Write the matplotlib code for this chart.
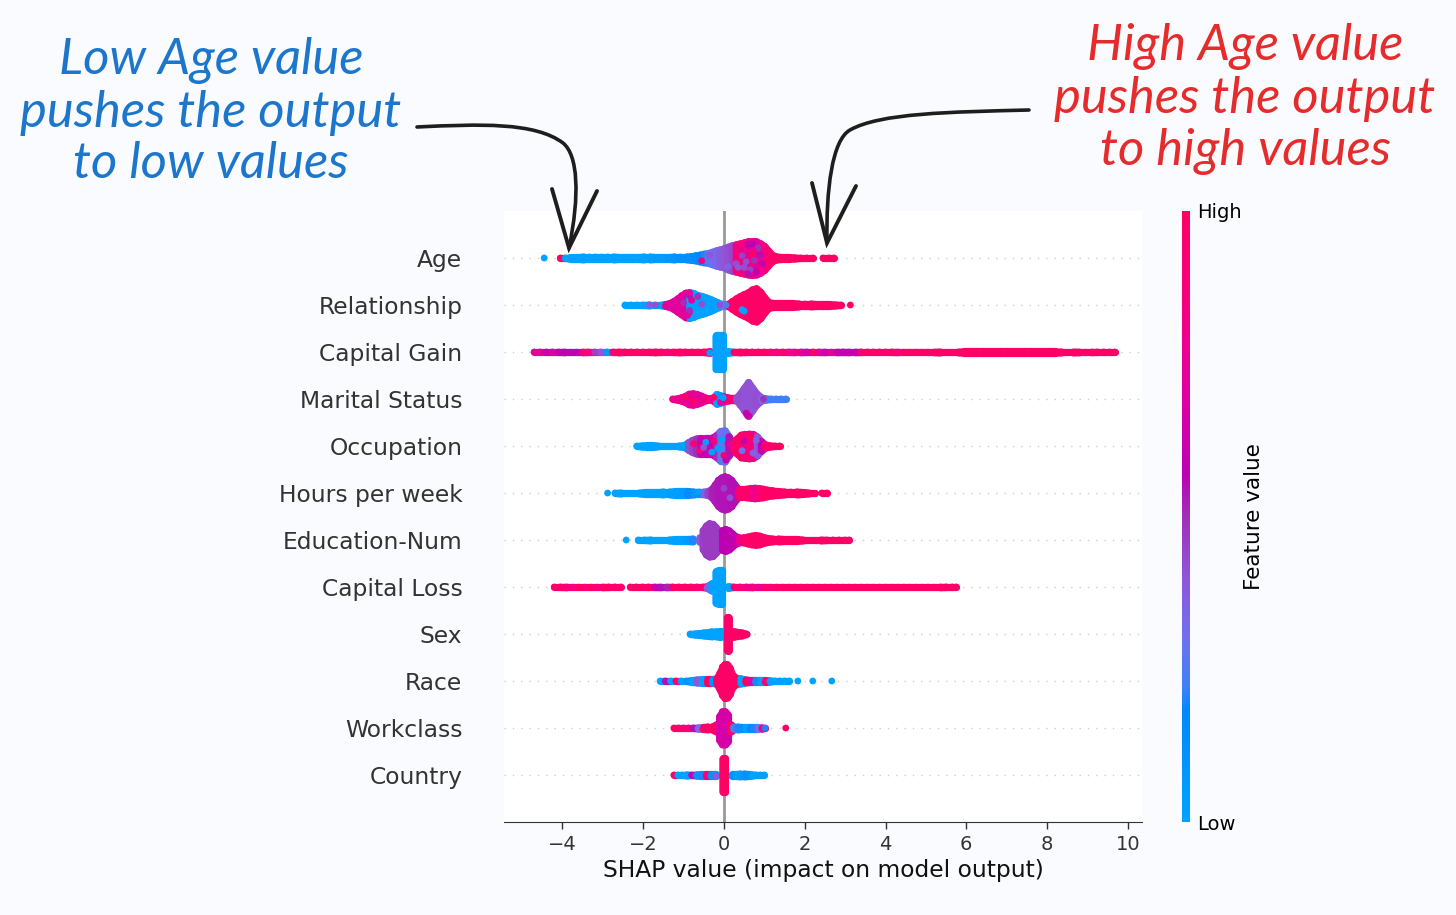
import numpy as np
import matplotlib
matplotlib.use("Agg")
from matplotlib import pyplot as plt
from matplotlib.colors import LinearSegmentedColormap
from matplotlib.cm import ScalarMappable
from matplotlib.path import Path
from matplotlib.patches import PathPatch

features = ["Age", "Relationship", "Capital Gain", "Marital Status", "Occupation", "Hours per week",
            "Education-Num", "Capital Loss", "Sex", "Race", "Workclass", "Country"]
x_ticks = [-4, -2, 0, 2, 4, 6, 8, 10]

# x = shap value, h = half height of the swarm, c = feature value 0..1
age_x = [-4.45, -4.05, -3.93, -3.78, -3.63, -3.48, -3.33, -3.18, -3.03, -2.88, -2.73, -2.58, -2.43, -2.28, -2.13, -1.98, -1.83, -1.68, -1.53, -1.38, -1.23, -1.08, -0.93, -0.8, -0.7, -0.6, -0.5, -0.4, -0.3, -0.2, -0.1, 0.0, 0.1, 0.2, 0.3, 0.4, 0.5, 0.6, 0.7, 0.8, 0.9, 1.0, 1.1, 1.2, 1.3, 1.45, 1.6, 1.75, 1.9, 2.05, 2.2, 2.45, 2.6, 2.72]
age_h = [0, 0, 0, 0.02, 0.02, 0.03, 0.03, 0.03, 0.03, 0.03, 0.03, 0.02, 0.02, 0.02, 0.02, 0.03, 0.03, 0.02, 0.02, 0.02, 0.03, 0.03, 0.03, 0.04, 0.05, 0.07, 0.09, 0.1, 0.13, 0.16, 0.18, 0.2, 0.24, 0.27, 0.29, 0.31, 0.33, 0.35, 0.36, 0.35, 0.31, 0.25, 0.15, 0.06, 0.03, 0.02, 0.02, 0.01, 0, 0, 0, 0, 0, 0]
age_c = [0.0, 1.0, 0.0, 0.0, 0.0, 0.0, 0.0, 0.0, 0.0, 0.0, 0.0, 0.0, 0.0, 0.0, 0.0, 0.0, 0.03, 0.05, 0.05, 0.08, 0.1, 0.12, 0.14, 0.14, 0.16, 0.18, 0.2, 0.25, 0.3, 0.33, 0.37, 0.4, 0.42, 0.44, 0.85, 0.9, 0.85, 0.75, 0.8, 0.72, 0.8, 0.85, 0.95, 1.0, 1.0, 1.0, 1.0, 1.0, 1.0, 1.0, 1.0, 1.0, 1.0, 1.0]
age_mix_x = [0.3, 0.45, 0.55, 0.6, 0.7, 0.75, 0.85, 0.65, 0.8, 0.5, 0.4, 0.7, 0.95, 0.6, 0.35, 0.9, -0.35, -0.55, 0.1]
age_mix_y = [-0.12, 0.05, -0.08, 0.28, 0.3, -0.05, 0.22, -0.25, -0.3, -0.2, 0.2, 0.08, -0.12, -0.34, -0.2, 0.06, 0.06, -0.06, -0.18]
age_mix_c = [0.42, 0.45, 0.42, 0.6, 0.58, 0.5, 0.5, 0.45, 0.6, 0.42, 0.8, 1.0, 0.6, 0.55, 0.4, 0.55, 0.4, 0.85, 0.35]

rel_x = [-2.45, -2.3, -2.15, -2.0, -1.85, -1.7, -1.55, -1.45, -1.35, -1.25, -1.15, -1.05, -0.95, -0.85, -0.75, -0.65, -0.55, -0.45, -0.35, -0.25, -0.15, -0.05, 0.1, 0.2, 0.3, 0.4, 0.5, 0.6, 0.7, 0.8, 0.9, 1.0, 1.1, 1.25, 1.4, 1.55, 1.7, 1.85, 2.0, 2.15, 2.3, 2.45, 2.6, 2.75, 2.9, 3.13]
rel_h = [0, 0, 0, 0, 0.01, 0.01, 0.01, 0.02, 0.04, 0.08, 0.14, 0.2, 0.26, 0.27, 0.25, 0.21, 0.19, 0.16, 0.13, 0.09, 0.05, 0.02, 0.02, 0.08, 0.14, 0.19, 0.23, 0.27, 0.33, 0.35, 0.28, 0.16, 0.06, 0.04, 0.04, 0.04, 0.04, 0.03, 0.03, 0.03, 0.02, 0.02, 0.02, 0.01, 0, 0]
rel_c = [0.0, 0.0, 0.0, 0.0, 0.0, 0.0, 0.0, 0.72, 0.72, 0.7, 0.72, 0.72, 0.7, 0.0, 0.0, 0.0, 0.0, 0.0, 0.0, 0.0, 0.0, 0.3, 1.0, 1.0, 1.0, 1.0, 1.0, 1.0, 1.0, 1.0, 1.0, 1.0, 1.0, 1.0, 1.0, 1.0, 1.0, 1.0, 1.0, 1.0, 1.0, 1.0, 1.0, 1.0, 1.0, 1.0]
rel_mix_x = [-1.85, -1.7, -1.0, -0.95, -0.85, -0.85, -0.85, -0.8, -0.9, -0.65, -0.55, -0.85, -0.1, 0.05, 0.45, 0.5]
rel_mix_y = [0, 0, 0.05, 0.25, 0.2, 0.26, -0.15, 0.1, -0.22, 0.18, 0.02, -0.12, 0, 0, -0.1, -0.13]
rel_mix_c = [0.4, 0.42, 0.5, 0.72, 0.55, 0.72, 0.7, 0.72, 0.72, 0.5, 0.42, 0.5, 0.42, 0.25, 0.0, 0.0]

gain_x = [-4.7, -4.55, -4.4, -4.25, -4.1, -3.95, -3.8, -3.65, -3.5, -3.35, -3.2, -3.05, -2.9, -2.75, -2.6, -2.45, -2.3, -2.15, -2.0, -1.85, -1.7, -1.55, -1.4, -1.25, -1.1, -0.95, -0.8, -0.65, -0.5, -0.35, -0.2, -0.14, -0.08, -0.03, 0.1, 0.25, 0.4, 0.55, 0.7, 0.85, 1.0, 1.15, 1.3, 1.45, 1.6, 1.75, 1.9, 2.05, 2.2, 2.35, 2.5, 2.65, 2.8, 2.95, 3.1, 3.25, 3.4, 3.55, 3.7, 3.85, 4.0, 4.15, 4.3, 4.45, 4.6, 4.75, 4.9, 5.05, 5.2, 5.35, 5.5, 5.65, 5.8, 5.95, 6.1, 6.25, 6.4, 6.55, 6.7, 6.85, 7.0, 7.15, 7.3, 7.45, 7.6, 7.75, 7.9, 8.05, 8.2, 8.35, 8.5, 8.65, 8.8, 8.95, 9.1, 9.25, 9.4, 9.55, 9.68]
gain_h = [0, 0, 0, 0, 0, 0.005, 0.005, 0.005, 0.005, 0, 0, 0, 0, 0, 0.005, 0, 0, 0, 0, 0, 0.005, 0, 0, 0, 0.005, 0, 0, 0, 0, 0.02, 0.37, 0.37, 0.37, 0.37, 0.02, 0, 0.005, 0, 0, 0, 0, 0, 0, 0, 0, 0.005, 0.005, 0, 0, 0, 0.005, 0.005, 0.005, 0, 0.005, 0.005, 0, 0, 0, 0, 0, 0, 0.005, 0.005, 0.005, 0.005, 0.005, 0.005, 0.005, 0.01, 0.01, 0.01, 0.01, 0.012, 0.012, 0.012, 0.012, 0.012, 0.012, 0.012, 0.012, 0.012, 0.012, 0.012, 0.012, 0.012, 0.012, 0.012, 0.012, 0.01, 0.01, 0.01, 0.005, 0.005, 0.005, 0, 0, 0, 0]
gain_c = [0.75, 0.72, 0.62, 0.7, 0.6, 0.58, 0.6, 0.58, 0.9, 0.85, 0.45, 0.4, 0.05, 0.95, 1.0, 1.0, 1.0, 1.0, 1.0, 0.95, 1.0, 1.0, 0.9, 1.0, 1.0, 0.95, 1.0, 1.0, 1.0, 0.0, 0.0, 0.0, 0.0, 0.0, 0.0, 1.0, 1.0, 1.0, 0.95, 1.0, 1.0, 0.9, 0.85, 1.0, 0.8, 0.85, 0.75, 0.65, 1.0, 0.75, 0.62, 0.8, 0.62, 0.62, 0.62, 0.62, 1.0, 1.0, 1.0, 0.95, 1.0, 0.95, 0.9, 1.0, 1.0, 0.95, 1.0, 1.0, 1.0, 1.0, 1.0, 1.0, 1.0, 1.0, 1.0, 1.0, 1.0, 1.0, 1.0, 1.0, 1.0, 1.0, 1.0, 1.0, 1.0, 1.0, 1.0, 1.0, 1.0, 1.0, 1.0, 1.0, 1.0, 1.0, 1.0, 1.0, 1.0, 1.0, 1.0]

marital_x = [-1.27, -1.17, -1.07, -0.97, -0.87, -0.77, -0.67, -0.57, -0.47, -0.37, -0.27, -0.18, -0.1, 0.0, 0.1, 0.2, 0.31, 0.4, 0.5, 0.6, 0.7, 0.8, 0.93, 1.05, 1.17, 1.29, 1.41, 1.53]
marital_h = [0, 0.01, 0.03, 0.06, 0.11, 0.12, 0.1, 0.07, 0.03, 0.01, 0.03, 0.1, 0.08, 0.05, 0.03, 0.02, 0.03, 0.12, 0.24, 0.36, 0.24, 0.12, 0.03, 0.01, 0, 0, 0, 0]
marital_c = [0.8, 0.8, 0.8, 0.75, 0.75, 0.75, 0.75, 0.75, 0.8, 0.9, 0.7, 0.0, 0.1, 0.7, 0.9, 0.95, 0.42, 0.42, 0.41, 0.41, 0.41, 0.42, 0.35, 0.22, 0.22, 0.22, 0.22, 0.22]
marital_mix_x = [0.58, 0.62, 0.55, -0.95, -0.75, -0.25, -0.08, -0.02, 0.98]
marital_mix_y = [-0.35, -0.36, -0.3, 0.05, -0.05, 0.03, -0.07, 0.03, 0]
marital_mix_c = [0.7, 0.65, 0.6, 1.0, 1.0, 1.0, 0.7, 0.0, 0.5]

occ_x = [-2.16, -2.03, -1.9, -1.77, -1.64, -1.51, -1.38, -1.25, -1.12, -0.99, -0.88, -0.78, -0.68, -0.58, -0.48, -0.38, -0.28, -0.18, -0.08, 0.02, 0.12, 0.22, 0.32, 0.42, 0.52, 0.62, 0.72, 0.82, 0.92, 1.02, 1.14, 1.26, 1.38]
occ_h = [0, 0.01, 0.02, 0.02, 0.01, 0.01, 0.01, 0.01, 0.01, 0.02, 0.08, 0.13, 0.16, 0.17, 0.16, 0.16, 0.18, 0.24, 0.32, 0.33, 0.2, 0.06, 0.16, 0.24, 0.25, 0.26, 0.25, 0.2, 0.1, 0.03, 0.01, 0.0, 0.0]
occ_c = [0.0, 0.0, 0.0, 0.0, 0.0, 0.0, 0.0, 0.0, 0.0, 0.0, 0.42, 0.45, 0.5, 0.62, 0.6, 0.65, 0.6, 0.5, 0.28, 0.28, 0.55, 0.9, 1.0, 1.0, 0.95, 0.9, 0.85, 0.4, 0.6, 0.95, 1.0, 1.0, 1.0]
occ_mix_x = [-0.75, -0.6, -0.45, -0.3, -0.25, -0.1, 0.0, 0.1, -0.15, 0.5, 0.65, 0.72, 0.8, 0.45, -0.5, -0.05, 0.05]
occ_mix_y = [0.05, -0.1, 0.08, -0.13, 0.1, 0.3, -0.2, 0.05, -0.05, 0.1, 0.18, -0.15, 0.12, -0.1, -0.03, 0.13, -0.3]
occ_mix_c = [0.95, 0.85, 0.0, 0.0, 0.9, 0.3, 0.95, 0.7, 0.0, 0.6, 1.0, 0.35, 0.35, 0.3, 0.4, 0.0, 0.6]

hours_x = [-2.88, -2.7, -2.55, -2.4, -2.25, -2.1, -1.95, -1.8, -1.65, -1.5, -1.35, -1.2, -1.05, -0.9, -0.75, -0.6, -0.5, -0.4, -0.3, -0.22, -0.14, -0.06, 0.02, 0.1, 0.18, 0.26, 0.36, 0.46, 0.56, 0.66, 0.76, 0.86, 0.96, 1.06, 1.2, 1.35, 1.5, 1.65, 1.8, 1.95, 2.1, 2.25, 2.42, 2.55]
hours_h = [0, 0, 0.01, 0.01, 0.01, 0.01, 0.02, 0.02, 0.02, 0.03, 0.03, 0.04, 0.04, 0.04, 0.03, 0.03, 0.03, 0.04, 0.09, 0.18, 0.28, 0.33, 0.35, 0.33, 0.28, 0.18, 0.08, 0.08, 0.09, 0.1, 0.11, 0.1, 0.09, 0.07, 0.05, 0.04, 0.03, 0.03, 0.03, 0.02, 0.01, 0.01, 0, 0]
hours_c = [0.0, 0.0, 0.0, 0.0, 0.0, 0.0, 0.0, 0.0, 0.0, 0.0, 0.02, 0.02, 0.05, 0.15, 0.1, 0.2, 0.35, 0.45, 0.52, 0.53, 0.54, 0.54, 0.54, 0.54, 0.55, 0.55, 0.95, 0.95, 1.0, 0.9, 0.8, 0.9, 1.0, 1.0, 1.0, 1.0, 1.0, 1.0, 1.0, 1.0, 1.0, 1.0, 1.0, 1.0]
hours_mix_x = [-0.65, 0.0, 0.15]
hours_mix_y = [0.02, 0.1, -0.1]
hours_mix_c = [0.05, 0.45, 0.42]

edu_x = [-2.42, -2.12, -1.97, -1.82, -1.67, -1.52, -1.37, -1.22, -1.07, -0.92, -0.77, -0.6, -0.52, -0.44, -0.36, -0.28, -0.2, -0.12, -0.04, 0.04, 0.12, 0.2, 0.28, 0.38, 0.48, 0.58, 0.68, 0.78, 0.88, 0.98, 1.08, 1.2, 1.35, 1.5, 1.65, 1.8, 1.95, 2.1, 2.25, 2.4, 2.55, 2.7, 2.85, 3.0, 3.1]
edu_h = [0, 0, 0, 0.01, 0.01, 0.01, 0.01, 0.02, 0.02, 0.02, 0.03, 0.05, 0.2, 0.31, 0.35, 0.34, 0.27, 0.18, 0.21, 0.23, 0.2, 0.14, 0.08, 0.05, 0.05, 0.07, 0.09, 0.1, 0.09, 0.06, 0.04, 0.03, 0.03, 0.02, 0.02, 0.02, 0.01, 0.01, 0.01, 0.01, 0, 0, 0, 0, 0]
edu_c = [0.0, 0.0, 0.0, 0.0, 0.0, 0.0, 0.0, 0.0, 0.0, 0.05, 0.2, 0.4, 0.46, 0.47, 0.47, 0.47, 0.47, 0.47, 0.57, 0.58, 0.58, 0.58, 0.6, 0.8, 0.9, 1.0, 1.0, 1.0, 1.0, 1.0, 1.0, 1.0, 1.0, 1.0, 1.0, 1.0, 1.0, 1.0, 1.0, 1.0, 1.0, 1.0, 1.0, 1.0, 1.0]

loss_x = [-4.2, -4.05, -3.9, -3.75, -3.6, -3.45, -3.3, -3.15, -3.0, -2.85, -2.7, -2.55, -2.32, -2.17, -2.02, -1.87, -1.72, -1.57, -1.42, -1.27, -1.12, -0.97, -0.82, -0.67, -0.52, -0.42, -0.3, -0.2, -0.13, -0.06, 0.1, 0.25, 0.4, 0.55, 0.7, 0.85, 1.0, 1.15, 1.3, 1.45, 1.6, 1.75, 1.9, 2.05, 2.2, 2.35, 2.5, 2.65, 2.8, 2.95, 3.1, 3.25, 3.4, 3.55, 3.7, 3.85, 4.0, 4.15, 4.3, 4.45, 4.6, 4.75, 4.9, 5.05, 5.2, 5.35, 5.5, 5.65, 5.75]
loss_h = [0, 0, 0.005, 0.005, 0.005, 0.005, 0.005, 0.005, 0.005, 0, 0, 0, 0, 0, 0, 0, 0, 0.005, 0.005, 0, 0, 0, 0, 0, 0, 0.02, 0.08, 0.34, 0.36, 0.36, 0.02, 0, 0, 0, 0.005, 0.005, 0.005, 0.005, 0.005, 0.005, 0.005, 0.005, 0.005, 0.005, 0.005, 0.005, 0.005, 0.005, 0.005, 0.005, 0.005, 0.005, 0.005, 0.005, 0.005, 0.005, 0.005, 0.005, 0.005, 0.005, 0.005, 0.005, 0.005, 0.005, 0.005, 0.005, 0, 0, 0]
loss_c = [0.95, 0.95, 0.9, 0.85, 1.0, 0.9, 1.0, 0.85, 1.0, 0.95, 0.95, 1.0, 1.0, 1.0, 0.95, 1.0, 0.62, 0.55, 0.52, 1.0, 1.0, 1.0, 1.0, 0.9, 1.0, 0.35, 0.0, 0.0, 0.0, 0.0, 0.0, 0.95, 0.9, 0.8, 0.85, 0.75, 0.95, 0.9, 0.95, 1.0, 0.95, 0.95, 1.0, 0.95, 1.0, 1.0, 1.0, 1.0, 1.0, 1.0, 1.0, 1.0, 1.0, 1.0, 1.0, 1.0, 1.0, 1.0, 1.0, 1.0, 1.0, 1.0, 1.0, 1.0, 1.0, 1.0, 1.0, 1.0, 1.0]

sex_x = [-0.84, -0.72, -0.6, -0.5, -0.4, -0.3, -0.2, -0.1, -0.02, 0.08, 0.1, 0.12, 0.24, 0.34, 0.44, 0.56]
sex_h = [0, 0.01, 0.02, 0.03, 0.04, 0.05, 0.05, 0.06, 0.05, 0.35, 0.36, 0.35, 0.06, 0.04, 0.03, 0]
sex_c = [0.0, 0.0, 0.0, 0.0, 0.0, 0.0, 0.0, 0.0, 0.0, 1.0, 1.0, 1.0, 1.0, 1.0, 1.0, 1.0]

race_x = [-1.58, -1.45, -1.32, -1.19, -1.06, -0.93, -0.8, -0.67, -0.54, -0.41, -0.28, -0.18, -0.1, -0.04, 0.02, 0.08, 0.14, 0.2, 0.3, 0.42, 0.54, 0.66, 0.78, 0.9, 1.02, 1.14, 1.26, 1.38, 1.5, 1.62, 1.83, 2.2, 2.67]
race_h = [0, 0, 0, 0, 0, 0, 0.02, 0.03, 0.04, 0.04, 0.04, 0.06, 0.18, 0.3, 0.36, 0.35, 0.28, 0.14, 0.06, 0.05, 0.03, 0.02, 0.02, 0.02, 0.02, 0.01, 0, 0, 0, 0, 0, 0, 0]
race_c = [0.0, 0.55, 0.0, 1.0, 0.0, 0.1, 0.0, 0.4, 0.0, 1.0, 0.1, 1.0, 1.0, 1.0, 1.0, 1.0, 1.0, 1.0, 1.0, 0.0, 1.0, 0.7, 0.2, 0.0, 0.9, 0.0, 0.0, 0.0, 0.0, 0.0, 0.0, 0.0, 0.0]

work_x = [-1.24, -1.12, -1.0, -0.88, -0.76, -0.64, -0.52, -0.4, -0.3, -0.18, -0.11, -0.04, 0.03, 0.1, 0.16, 0.24, 0.34, 0.44, 0.54, 0.64, 0.74, 0.84, 0.94, 1.02, 1.53]
work_h = [0, 0, 0, 0, 0, 0.01, 0.02, 0.03, 0.03, 0.08, 0.26, 0.35, 0.35, 0.28, 0.08, 0.03, 0.03, 0.02, 0.02, 0.02, 0.02, 0.02, 0.01, 0, 0]
work_c = [1.0, 1.0, 0.9, 0.95, 0.55, 0.3, 1.0, 1.0, 1.0, 1.0, 0.66, 0.66, 0.66, 0.66, 1.0, 0.25, 0.2, 0.1, 0.0, 0.15, 0.2, 0.3, 0.9, 0.2, 1.0]

country_x = [-1.24, -1.14, -1.04, -0.92, -0.8, -0.68, -0.56, -0.44, -0.32, -0.2, -0.03, -0.01, 0.01, 0.03, 0.2, 0.3, 0.4, 0.5, 0.6, 0.7, 0.8, 0.9, 1.0]
country_h = [0, 0, 0, 0.01, 0, 0.01, 0.02, 0.02, 0.02, 0.02, 0.36, 0.36, 0.36, 0.36, 0.02, 0.02, 0.03, 0.03, 0.02, 0.01, 0, 0, 0]
country_c = [0.95, 0.0, 0.0, 0.0, 0.62, 0.1, 0.2, 0.9, 0.1, 0.4, 1.0, 1.0, 1.0, 1.0, 0.1, 0.0, 0.05, 0.1, 0.1, 0.0, 0.0, 0.0, 0.0]

swarms = [
    (age_x, age_h, age_c, age_mix_x, age_mix_y, age_mix_c),
    (rel_x, rel_h, rel_c, rel_mix_x, rel_mix_y, rel_mix_c),
    (gain_x, gain_h, gain_c, [], [], []),
    (marital_x, marital_h, marital_c, marital_mix_x, marital_mix_y, marital_mix_c),
    (occ_x, occ_h, occ_c, occ_mix_x, occ_mix_y, occ_mix_c),
    (hours_x, hours_h, hours_c, hours_mix_x, hours_mix_y, hours_mix_c),
    (edu_x, edu_h, edu_c, [], [], []),
    (loss_x, loss_h, loss_c, [], [], []),
    (sex_x, sex_h, sex_c, [], [], []),
    (race_x, race_h, race_c, [], [], []),
    (work_x, work_h, work_c, [], [], []),
    (country_x, country_h, country_c, [], [], []),
]

bg = "#FAFBFE"
cmap = LinearSegmentedColormap.from_list("feature", [
    (0.0, "#00A2FF"), (0.18, "#0088FF"), (0.22, "#4080F8"), (0.3, "#7070F0"), (0.4, "#9055D8"),
    (0.5, "#A030B8"), (0.57, "#BC00B4"), (0.7, "#E000A0"), (0.85, "#F50080"), (1.0, "#FF0066")])

fig = plt.figure(figsize=(14.56, 9.15), dpi=100, facecolor=bg)
ax = fig.add_axes([504 / 1456, 1 - 822 / 915, 638 / 1456, 611 / 915])
ax.set_facecolor("white")

n = len(features)
for i in range(n):
    ax.axhline(n - 1 - i, color="#cccccc", lw=1, dashes=(1, 5), zorder=1)
ax.axvline(0, color="#999999", lw=2, zorder=2)

for i, (xs, hs, cs, mx, my, mc) in enumerate(swarms):
    row = n - 1 - i
    # close the gaps between neighbouring columns so the swarm reads as one shape
    for j in range(len(xs) - 1):
        if xs[j + 1] - xs[j] < 0.16 and abs(hs[j + 1] - hs[j]) < 0.15:
            ax.fill_between([xs[j], xs[j + 1]], [row - hs[j], row - hs[j + 1]], [row + hs[j], row + hs[j + 1]],
                            color=cmap(cs[j]), lw=5.2, joinstyle="round", capstyle="round", zorder=2.5)
    px, py, pc = [], [], []
    for x, h, c in zip(xs, hs, cs):
        # stack the dots of one x around the row
        for off in np.arange(-h, h + 0.001, 0.05) if h > 0 else [0.0]:
            px.append(x)
            py.append(row + off)
            pc.append(c)
    ax.scatter(px, py, c=pc, cmap=cmap, vmin=0, vmax=1, s=24, linewidths=0, zorder=3)
    if mx:
        ax.scatter(mx, [row + d for d in my], c=mc, cmap=cmap, vmin=0, vmax=1, s=24, linewidths=0, zorder=4)

ax.set_xlim(-5.445, 10.35)
ax.set_ylim(-1, 12)
ax.set_yticks(range(n))
ax.set_yticklabels(features[::-1], fontsize=16.8, color="#333333")
ax.tick_params(axis="y", length=0, pad=30)
ax.set_xticks(x_ticks)
ax.set_xticklabels(["\u2212" + str(-t) if t < 0 else str(t) for t in x_ticks], fontsize=14, color="#333333")
ax.tick_params(axis="x", length=5, width=1, color="#333333", pad=4)
for side in ["top", "left", "right"]:
    ax.spines[side].set_visible(False)
ax.spines["bottom"].set_color("#333333")
ax.set_xlabel("SHAP value (impact on model output)", fontsize=16.8, color="#111111", labelpad=4)

cax = fig.add_axes([1182 / 1456, 1 - 822 / 915, 8 / 1456, 611 / 915])
cb = fig.colorbar(ScalarMappable(cmap=cmap), cax=cax)
cb.outline.set_visible(False)
cb.set_ticks([0, 1])
cb.set_ticklabels(["Low", "High"])
cb.ax.tick_params(length=0, labelsize=14, pad=5)
cb.set_label("Feature value", fontsize=15.5, labelpad=1.5)

# overlay in pixels for the hand drawn notes
over = fig.add_axes([0, 0, 1, 1], zorder=10)
over.set_xlim(0, 1456)
over.set_ylim(915, 0)
over.axis("off")
over.patch.set_alpha(0)

hand = dict(family="Lato", style="italic", fontsize=36.5, ha="center", va="center", linespacing=1.15)
over.text(211, 112, "Low Age value\npushes the output\nto low values", color="#1B76CC", **hand)
over.text(1245, 99, "High Age value\npushes the output\nto high values", color="#E52B2B", **hand)

ink = "#1E1E1E"
curve4 = [Path.MOVETO, Path.CURVE4, Path.CURVE4, Path.CURVE4, Path.CURVE4, Path.CURVE4, Path.CURVE4]
left_curve = Path([(417, 127), (480, 124), (535, 122), (563, 143), (578, 155), (580, 195), (569, 248)], curve4)
right_curve = Path([(1029, 110), (950, 112), (880, 113), (850, 130), (832, 140), (826, 190), (827, 243)], curve4)
for curve in [left_curve, right_curve]:
    over.add_patch(PathPatch(curve, fc="none", ec=ink, lw=2.6, capstyle="round"))
over.plot([552, 569, 597], [189, 248, 191], color=ink, lw=2.8, solid_capstyle="round", solid_joinstyle="miter")
over.plot([812, 827, 856], [183, 243, 186], color=ink, lw=2.8, solid_capstyle="round", solid_joinstyle="miter")

fig.savefig("out.png", dpi=100, facecolor=bg)
